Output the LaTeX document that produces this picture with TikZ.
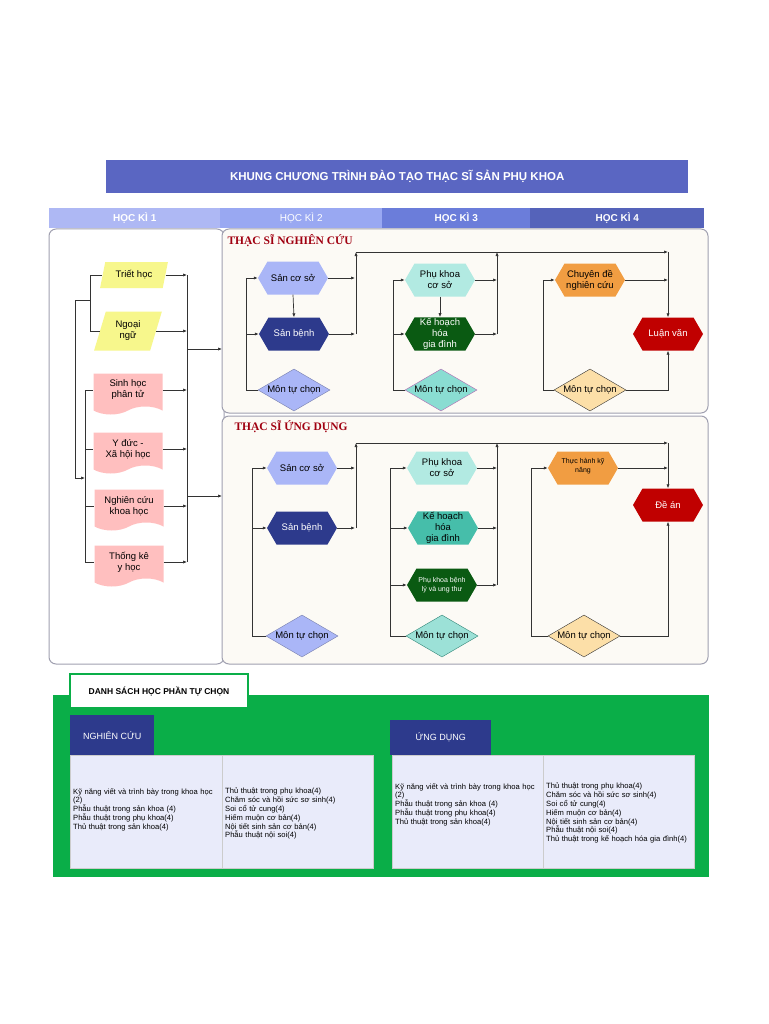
\documentclass[tikz,border=0pt]{standalone}
\usepackage{fontspec}
\setmainfont{Liberation Sans}
\newfontfamily\serifb{Liberation Serif}
\usetikzlibrary{shapes.geometric,shapes.symbols,arrows.meta}
\definecolor{titlebar}{HTML}{5A66C2}
\definecolor{hk1}{HTML}{AEB8F4}
\definecolor{hk2}{HTML}{99A8F2}
\definecolor{hk3}{HTML}{6B7DDA}
\definecolor{hk4}{HTML}{5563BA}
\definecolor{panelbg}{HTML}{FCFAF5}
\definecolor{panelbd}{HTML}{A0A0B0}
\definecolor{lblue}{HTML}{AAB6F7}
\definecolor{dblue}{HTML}{2D3A8C}
\definecolor{lteal}{HTML}{B2EAE2}
\definecolor{mteal}{HTML}{8ADDD2}
\definecolor{teal}{HTML}{46BEAA}
\definecolor{dgreen}{HTML}{0A5A12}
\definecolor{orng}{HTML}{F19D42}
\definecolor{lorng}{HTML}{FCDFA8}
\definecolor{dred}{HTML}{C00000}
\definecolor{yel}{HTML}{F7F78C}
\definecolor{pink}{HTML}{FFBFBF}
\definecolor{grn}{HTML}{0AAE48}
\definecolor{cell}{HTML}{E9EBFA}
\definecolor{ttl}{HTML}{A00010}
\definecolor{ln}{HTML}{333333}
\tikzset{
  hx/.style={signal, signal to=east and west, signal pointer angle=120, draw=none,
    minimum width=70pt, minimum height=33pt, inner sep=1pt, align=center, font=\fontsize{9.5}{11}\selectfont},
  dm/.style={diamond, aspect=1.75, draw=#1, minimum width=72pt, minimum height=42pt, inner sep=0pt, font=\fontsize{9.5}{11}\selectfont},
  para/.style={trapezium, trapezium left angle=72, trapezium right angle=108, trapezium stretches=true,
    fill=yel, minimum width=68pt, align=center, inner sep=1pt, font=\fontsize{9.5}{11}\selectfont},
  doc/.style={tape, tape bend top=none, tape bend height=8pt, fill=pink, minimum width=69pt, minimum height=41pt,
    align=center, inner sep=1pt, font=\fontsize{9.5}{11}\selectfont},
  ar/.style={draw=ln, line width=0.7pt, -{Latex[length=4pt,width=3.2pt]}},
  ln/.style={draw=ln, line width=0.7pt},
  panel/.style={draw=panelbd, line width=1pt, rounded corners=7pt, fill=panelbg},
  hdr/.style={anchor=north west, minimum height=20pt, inner sep=0pt, text=white, font=\fontsize{10}{12}\selectfont},
  sec/.style={anchor=west, text=ttl, font=\serifb\bfseries\fontsize{11.5}{13}\selectfont},
  celltxt/.style={anchor=north west, align=left, text width=148pt, inner sep=0pt, font=\fontsize{7.6}{8.8}\selectfont}
}
\begin{document}
\begin{tikzpicture}[x=1pt,y=-1pt]
\useasboundingbox[fill=white] (0,0) rectangle (768,1024);
% title
\node[fill=titlebar, minimum width=582pt, minimum height=33pt, anchor=north west, text=white,
  font=\bfseries\fontsize{11.5}{13}\selectfont] (title) at (106,160) {KHUNG CHƯƠNG TRÌNH ĐÀO TẠO THẠC SĨ SẢN PHỤ KHOA};
% headers
\node[hdr, fill=hk1, minimum width=171pt, font=\bfseries\fontsize{10}{12}\selectfont] (h1) at (49,208) {HỌC KÌ 1};
\node[hdr, fill=hk2, minimum width=162pt] (h2) at (220,208) {HỌC KÌ 2};
\node[hdr, fill=hk3, minimum width=148pt, font=\bfseries\fontsize{10}{12}\selectfont] (h3) at (382,208) {HỌC KÌ 3};
\node[hdr, fill=hk4, minimum width=174pt, font=\bfseries\fontsize{10}{12}\selectfont] (h4) at (530,208) {HỌC KÌ 4};
% panels
\draw[panel, fill=white] (49,229) rectangle (224,664);
\draw[panel] (222,229) rectangle (708,413);
\draw[panel] (222,416) rectangle (708,664);
\node[sec] (t1) at (224,241) {THẠC SĨ NGHIÊN CỨU};
\node[sec] (t2) at (231,427) {THẠC SĨ ỨNG DỤNG};
% ---- left column
\node[para, minimum height=26pt] (tr) at (134,275) {Triết học};
\node[para, minimum height=39pt] (ng) at (128,331) {Ngoại\\ngữ};
\node[doc] (sh) at (128,390) {Sinh học\\phân tử};
\node[doc] (yd) at (128,449) {Y đức -\\Xã hội học};
\node[doc] (nc) at (129,506) {Nghiên cứu\\khoa học};
\node[doc] (tk) at (129,562) {Thống kê\\y học};
\coordinate (L1) at (75,300);
\coordinate (B1) at (90,300);
\coordinate (B2) at (85,478);
\coordinate (R) at (187,0);
\draw[ln] (B1) |- (tr.west);
\draw[ln] (B1) |- (ng.west);
\draw[ln] (L1) -- (B1);
\draw[ar] (L1) |- (B2);
\draw[ln] (sh.west -| B2) -- (tk.west -| B2);
\foreach \n in {sh,yd,nc,tk} \draw[ln] (\n.west -| B2) -- (\n.west);
\foreach \n in {tr,ng,sh,yd,nc,tk} \draw[ar] (\n.east) -- (\n.east -| R);
\draw[ln] (tr.east -| R) -- (tk.east -| R);
\coordinate (o1) at (187,349); \coordinate (o1e) at (222,349);
\coordinate (o2) at (187,496); \coordinate (o2e) at (222,496);
\draw[ar] (o1) -- (o1e);
\draw[ar] (o2) -- (o2e);
% ---- top panel (nghien cuu)
\node[hx, fill=lblue] (a1) at (293,278) {Sản cơ sở};
\node[hx, fill=dblue, text=white] (a2) at (294,334) {Sản bệnh};
\node[dm=lblue!70!black, fill=lblue] (a3) at (294,390) {Môn tự chọn};
\node[hx, fill=lteal] (b1) at (440,280) {Phụ khoa\\cơ sở};
\node[hx, fill=dgreen, text=white] (b2) at (440,334) {Kế hoạch\\hóa\\gia đình};
\node[dm=violet!60, fill=mteal] (b3) at (441,390) {Môn tự chọn};
\node[hx, fill=orng] (c1) at (590,280) {Chuyên đề\\nghiên cứu};
\node[dm=ln, fill=lorng] (c3) at (590,390) {Môn tự chọn};
\node[hx, fill=dred, text=white] (lv) at (668,334) {Luận văn};
\coordinate (va) at (246,278);
\draw[ln] (a3.west) -| (va);
\draw[ar] (va) -- (a1.west);
\draw[ar] (a2.west -| va) -- (a2.west);
\draw[ar] (a1.south) -- (a2.north);
\coordinate (ca) at (355,0); \coordinate (ta) at (356,252);
\draw[ar] (a1.east) -- (a1.east -| ca);
\draw[ar] (a2.east) -- (a2.east -| ca);
\draw[ar] (a2.east -| ta) -- (ta);
\coordinate (vb) at (393,280);
\draw[ln] (b3.west) -| (vb);
\draw[ar] (vb) -- (b1.west);
\draw[ar] (b2.west -| vb) -- (b2.west);
\draw[ar] (b1.south) -- (b2.north);
\coordinate (cb) at (497,0); \coordinate (tb) at (497,252);
\draw[ar] (b1.east) -- (b1.east -| cb);
\draw[ar] (b2.east) -- (b2.east -| cb);
\draw[ar] (b2.east -| tb) -- (tb);
\coordinate (tc) at (668,252);
\draw[ar] (ta) -- (tc);
\draw[ar] (tc) -- (lv.north);
\coordinate (vc) at (543,280);
\draw[ln] (c3.west) -| (vc);
\draw[ar] (vc) -- (c1.west);
\draw[ar] (c1.east) -- (c1.east -| tc);
\draw[ar] (c3.east) -| (lv.south);
% ---- bottom panel (ung dung)
\node[hx, fill=lblue] (d1) at (302,468) {Sản cơ sở};
\node[hx, fill=dblue, text=white] (d2) at (302,528) {Sản bệnh};
\node[dm=lblue!70!black, fill=lblue] (d3) at (302,636) {Môn tự chọn};
\node[hx, fill=lteal] (e1) at (442,468) {Phụ khoa\\cơ sở};
\node[hx, fill=teal] (e2) at (443,528) {Kế hoạch\\hóa\\gia đình};
\node[hx, fill=dgreen, text=white, font=\fontsize{7}{8.5}\selectfont] (e3) at (442,585) {Phụ khoa bệnh\\lý và ung thư};
\node[dm=teal!70!black, fill=lteal!80!teal] (e4) at (442,636) {Môn tự chọn};
\node[hx, fill=orng, font=\fontsize{7}{8.5}\selectfont] (f1) at (583,468) {Thực hành kỹ\\năng\\[-3pt]\phantom{x}};
\node[dm=ln, fill=lorng] (f3) at (584,636) {Môn tự chọn};
\node[hx, fill=dred, text=white] (da) at (668,505) {Đề án};
\coordinate (vd) at (252,468);
\draw[ln] (d3.west) -| (vd);
\draw[ar] (vd) -- (d1.west);
\draw[ar] (d2.west -| vd) -- (d2.west);
\coordinate (td) at (356,443);
\draw[ar] (d1.east) -- (d1.east -| ca);
\draw[ar] (d2.east) -- (d2.east -| ca);
\draw[ar] (d2.east -| td) -- (td);
\coordinate (ve) at (390,468);
\draw[ln] (e4.west) -| (ve);
\draw[ar] (ve) -- (e1.west);
\draw[ar] (e2.west -| ve) -- (e2.west);
\draw[ar] (e3.west -| ve) -- (e3.west);
\coordinate (te) at (497,443);
\draw[ar] (e1.east) -- (e1.east -| cb);
\draw[ar] (e2.east) -- (e2.east -| cb);
\draw[ar] (e3.east) -- (e3.east -| cb);
\draw[ar] (e3.east -| te) -- (te);
\coordinate (tf) at (668,443);
\draw[ar] (td) -- (tf);
\draw[ar] (tf) -- (da.north);
\coordinate (vf) at (531,468);
\draw[ln] (f3.west) -| (vf);
\draw[ar] (vf) -- (f1.west);
\draw[ar] (f1.east) -- (f1.east -| tf);
\draw[ar] (f3.east) -| (da.south);
% ---- elective list
\fill[grn] (53,695) rectangle (709,877);
\node[draw=grn, line width=2pt, fill=white, anchor=north west, minimum width=178pt, minimum height=34pt,
  font=\bfseries\fontsize{8.5}{10}\selectfont] (tab) at (69,673) {DANH SÁCH HỌC PHẦN TỰ CHỌN};
\node[fill=dblue, text=white, anchor=north west, minimum width=84pt, minimum height=40pt,
  font=\fontsize{9}{11}\selectfont] (nch) at (70,715) {NGHIÊN CỨU};
\node[fill=dblue, text=white, anchor=north west, minimum width=101pt, minimum height=35pt,
  font=\fontsize{9}{11}\selectfont] (udh) at (390,720) {ỨNG DỤNG};
\draw[fill=cell, draw=gray!40] (70,755) rectangle (222,868);
\draw[fill=cell, draw=gray!40] (222,755) rectangle (373,868);
\draw[fill=cell, draw=gray!40] (392,755) rectangle (543,868);
\draw[fill=cell, draw=gray!40] (543,755) rectangle (694,868);
\node[celltxt] (n1) at (73,788) {Kỹ năng viết và trình bày trong khoa học (2)\\Phẫu thuật trong sản khoa (4)\\Phẫu thuật trong phụ khoa(4)\\Thủ thuật trong sản khoa(4)};
\node[celltxt] (n2) at (225,788) {Thủ thuật trong phụ khoa(4)\\Chăm sóc và hồi sức sơ sinh(4)\\Soi cổ tử cung(4)\\Hiếm muộn cơ bản(4)\\Nội tiết sinh sản cơ bản(4)\\Phẫu thuật nội soi(4)};
\node[celltxt] (u1) at (395,783) {Kỹ năng viết và trình bày trong khoa học (2)\\Phẫu thuật trong sản khoa (4)\\Phẫu thuật trong phụ khoa(4)\\Thủ thuật trong sản khoa(4)};
\node[celltxt] (u2) at (546,783) {Thủ thuật trong phụ khoa(4)\\Chăm sóc và hồi sức sơ sinh(4)\\Soi cổ tử cung(4)\\Hiếm muộn cơ bản(4)\\Nội tiết sinh sản cơ bản(4)\\Phẫu thuật nội soi(4)\\Thủ thuật trong kế hoạch hóa gia đình(4)};
\end{tikzpicture}
\end{document}
